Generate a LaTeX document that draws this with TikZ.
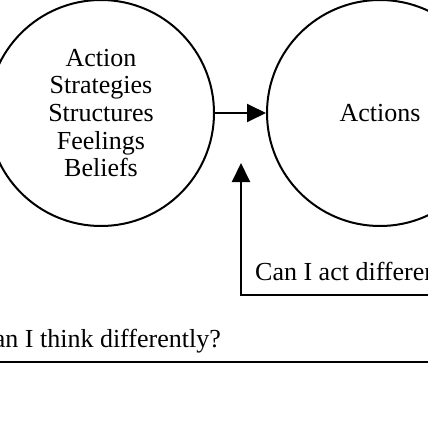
\documentclass[tikz,border=0pt]{standalone}
\usepackage{fontspec}
\setmainfont{Liberation Serif}
\usetikzlibrary{arrows.meta}
\begin{document}
\begin{tikzpicture}[x=1pt,y=-1pt,
  ring/.style={circle,draw,line width=2pt,minimum size=226pt,inner sep=0pt,align=center,font=\fontsize{26}{27.7}\selectfont},
  conn/.style={line width=2pt,-{Triangle[length=19pt,width=18pt]}},
  lbl/.style={font=\fontsize{26}{27.7}\selectfont,inner sep=0pt}]
\useasboundingbox (0,0) rectangle (428,428);
\clip (0,0) rectangle (428,428);
\fill[white] (0,0) rectangle (428,428);
\node[ring] (beliefs) at (101,113) {Action\\Strategies\\Structures\\Feelings\\Beliefs};
\node[ring] (actions) at (380,113) {Actions};
\draw[conn] (beliefs.east) -- (actions.west);
\coordinate (corner) at (241,295);
\coordinate (loopend) at (440,295);
\coordinate (tip) at (241,163);
\draw[conn] (loopend) -- (corner) -- (tip);
\node[lbl,anchor=base west] (act) at (255,280) {Can I act differently?};
\node[lbl,anchor=base east] (think) at (221,347) {Can I think differently?};
\coordinate (rl) at (-10,362);
\coordinate (rr) at (440,362);
\draw[line width=2pt] (rl) -- (rr);
\end{tikzpicture}
\end{document}
